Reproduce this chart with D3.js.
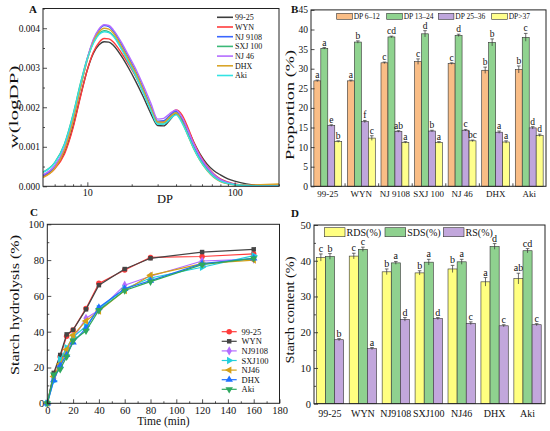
<!DOCTYPE html>
<html>
<head>
<meta charset="utf-8">
<script src="https://cdn.jsdelivr.net/npm/d3@7"></script>
<style>
  body { margin: 0; background: #fff; }
</style>
</head>
<body>
<svg id="fig" width="550" height="431"></svg>
<script>
// ---- data -------------------------------------------------------------

// A: molecular weight distribution, w(logDP) in units of 0.001
var dpGrid  = [5, 6, 7, 8, 9, 10, 11, 12, 13, 14, 15, 17, 19, 21, 24, 27, 30, 33, 36, 40, 44, 48, 53, 58, 65, 72, 80, 90, 100, 120, 150, 200];
var w_9925  = [0.27, 0.47, 0.86, 1.52, 2.30, 2.95, 3.37, 3.58, 3.66, 3.65, 3.57, 3.30, 3.00, 2.70, 2.26, 1.84, 1.54, 1.53, 1.66, 1.83, 1.70, 1.45, 1.10, 0.83, 0.56, 0.40, 0.29, 0.19, 0.13, 0.06, 0.03, 0.03];
var w_wyn   = [0.25, 0.44, 0.82, 1.48, 2.28, 2.95, 3.40, 3.64, 3.74, 3.73, 3.65, 3.38, 3.10, 2.82, 2.38, 1.95, 1.63, 1.64, 1.78, 1.93, 1.80, 1.50, 1.10, 0.80, 0.51, 0.32, 0.19, 0.11, 0.06, 0.03, 0.02, 0.02];
var w_nj9108 = [0.27, 0.50, 0.95, 1.68, 2.52, 3.22, 3.70, 3.96, 4.07, 4.04, 3.93, 3.60, 3.27, 2.96, 2.48, 2.02, 1.65, 1.66, 1.78, 1.90, 1.66, 1.36, 1.00, 0.74, 0.47, 0.29, 0.17, 0.09, 0.05, 0.02, 0.01, 0.01];
var w_sxj100 = [0.36, 0.60, 1.08, 1.82, 2.62, 3.25, 3.65, 3.87, 3.94, 3.91, 3.82, 3.50, 3.17, 2.87, 2.40, 1.95, 1.60, 1.60, 1.72, 1.86, 1.64, 1.32, 0.95, 0.68, 0.42, 0.25, 0.14, 0.07, 0.04, 0.02, 0.01, 0.01];
var w_nj46  = [0.29, 0.52, 0.97, 1.70, 2.54, 3.24, 3.72, 3.98, 4.09, 4.07, 3.96, 3.65, 3.32, 3.02, 2.55, 2.10, 1.70, 1.72, 1.83, 1.93, 1.74, 1.44, 1.06, 0.77, 0.49, 0.30, 0.17, 0.09, 0.05, 0.02, 0.01, 0.01];
var w_dhx   = [0.22, 0.45, 0.92, 1.66, 2.50, 3.20, 3.66, 3.91, 4.00, 3.98, 3.88, 3.55, 3.22, 2.92, 2.44, 1.98, 1.63, 1.62, 1.74, 1.86, 1.62, 1.30, 0.93, 0.66, 0.40, 0.23, 0.12, 0.06, 0.04, 0.03, 0.04, 0.06];
var w_aki   = [0.35, 0.59, 1.06, 1.80, 2.60, 3.22, 3.62, 3.84, 3.91, 3.89, 3.80, 3.48, 3.14, 2.84, 2.36, 1.92, 1.57, 1.57, 1.68, 1.81, 1.60, 1.30, 0.94, 0.67, 0.41, 0.24, 0.13, 0.07, 0.04, 0.02, 0.01, 0.01];
var namesA  = ["99-25", "WYN", "NJ 9108", "SXJ 100", "NJ 46", "DHX", "Aki"];

// B: chain length distribution (%)
var cultivarsB = ["99-25", "WYN", "NJ 9108", "SXJ 100", "NJ 46", "DHX", "Aki"];
var seriesB    = ["DP 6\u201312", "DP 13\u201324", "DP 25\u201336", "DP>37"];
var dp6_12     = [26.9, 26.9, 31.5, 31.8, 31.3, 29.6, 29.8];
var dp13_24    = [35.2, 36.8, 38.1, 38.9, 38.5, 36.7, 38.0];
var dp25_36    = [15.5, 16.5, 14.0, 14.1, 14.3, 13.8, 14.9];
var dp37       = [11.4, 12.3, 11.2, 11.2, 11.6, 11.3, 13.0];
var err6_12    = [0.2, 0.2, 0.2, 0.7, 0.2, 0.8, 0.9];
var err13_24   = [0.2, 0.3, 0.2, 0.8, 0.3, 0.9, 1.0];
var err25_36   = [0.2, 0.3, 0.2, 0.2, 0.2, 0.3, 0.3];
var err37      = [0.2, 0.6, 0.2, 0.2, 0.2, 0.3, 0.3];
var let6_12    = ["a", "a", "c", "c", "c", "b", "b"];
var let13_24   = ["a", "b", "cd", "d", "d", "b", "c"];
var let25_36   = ["e", "f", "ab", "b", "c", "a", "d"];
var let37      = ["b", "c", "a", "a", "bc", "a", "d"];

// C: in vitro hydrolysis (%)
var timeC     = [0, 5, 10, 15, 20, 30, 40, 60, 80, 120, 160];
var h_9925    = [0, 16.0, 26.0, 37.5, 41.0, 53.0, 67.0, 74.5, 81.5, 82.0, 83.5];
var h_wyn     = [0, 17.0, 27.0, 38.5, 41.0, 52.5, 66.0, 75.0, 81.0, 84.5, 86.0];
var h_nj9108  = [0, 14.0, 21.0, 29.0, 36.0, 47.5, 52.0, 66.0, 71.0, 79.5, 80.5];
var h_sxj100  = [0, 12.5, 24.5, 31.0, 37.0, 43.0, 53.0, 64.0, 70.0, 76.0, 82.5];
var h_nj46    = [0, 15.0, 22.0, 30.0, 38.0, 46.0, 51.5, 63.0, 71.5, 78.0, 80.0];
var h_dhx     = [0, 13.0, 21.0, 27.0, 34.0, 42.0, 53.5, 64.0, 68.5, 78.0, 81.0];
var h_aki     = [0, 16.0, 19.0, 26.0, 35.0, 40.5, 52.0, 63.0, 68.0, 77.5, 81.0];
var namesC    = ["99-25", "WYN", "NJ9108", "SXJ100", "NJ46", "DHX", "Aki"];

// D: starch fractions (%)
var cultivarsD = ["99-25", "WYN", "NJ9108", "SXJ100", "NJ46", "DHX", "Aki"];
var seriesD    = ["RDS(%)", "SDS(%)", "RS(%)"];
var rds        = [40.9, 41.3, 36.9, 36.6, 37.7, 34.1, 35.0];
var sds        = [41.2, 43.2, 39.4, 39.6, 39.7, 44.0, 42.8];
var rs         = [17.9, 15.4, 23.6, 23.8, 22.5, 21.8, 22.1];
var errRds     = [1.0, 0.8, 0.8, 0.6, 1.0, 1.2, 1.5];
var errSds     = [0.8, 0.6, 0.4, 0.8, 0.7, 0.8, 0.6];
var errRs      = [0.3, 0.3, 0.5, 0.3, 0.4, 0.3, 0.3];
var letRds     = ["c", "c", "b", "b", "b", "a", "ab"];
var letSds     = ["b", "c", "a", "a", "a", "d", "cd"];
var letRs      = ["b", "a", "d", "d", "c", "c", "c"];

// ---- helpers ----------------------------------------------------------

var FONT = '"Liberation Serif", "Times New Roman", Times, serif';
var INK  = "#222";
var svg  = d3.select("#fig").attr("font-family", FONT);

function frame(x0, y0, x1, y1) {
  svg.append("rect")
    .attr("x", x0).attr("y", y0)
    .attr("width", x1 - x0).attr("height", y1 - y0)
    .attr("fill", "none").attr("stroke", INK).attr("stroke-width", 1);
}

function axisIn(maker, scale, tx, ty, values, size, fmt, fs) {
  var ax = maker(scale).tickValues(values).tickSize(-size).tickSizeOuter(0)
    .tickPadding(3).tickFormat(fmt);
  var g = svg.append("g")
    .attr("transform", "translate(" + tx + "," + ty + ")")
    .call(ax)
    .attr("font-family", FONT).attr("font-size", fs);
  g.select(".domain").remove();
  g.selectAll(".tick line").attr("stroke", INK).attr("stroke-width", 0.8);
  g.selectAll(".tick text").attr("fill", "#111");
  return g;
}

function yTitle(x, y, txt, len, fs) {
  svg.append("text")
    .attr("transform", "translate(" + x + "," + y + ") rotate(-90)")
    .attr("text-anchor", "middle")
    .attr("font-size", fs)
    .attr("textLength", len).attr("lengthAdjust", "spacingAndGlyphs")
    .attr("fill", "#111")
    .text(txt);
}

function label(x, y, txt, fs, anchor, weight) {
  return svg.append("text")
    .attr("x", x).attr("y", y)
    .attr("font-size", fs)
    .attr("text-anchor", anchor || "start")
    .attr("font-weight", weight || "normal")
    .attr("fill", "#111")
    .text(txt);
}

function panelLetter(x, y, t) {
  label(x, y, t, 11, "start", "bold");
}

// ---- panel A ----------------------------------------------------------

var A = { l: 43, r: 279, t: 8.5, b: 186.3 };
var xA = d3.scaleLog().domain([5, 200]).range([A.l, A.r]);
var yA = d3.scaleLinear().domain([0, 4.5]).range([A.b, A.t]);
var seriesA = [w_9925, w_wyn, w_nj9108, w_sxj100, w_nj46, w_dhx, w_aki];
var colorsA = ["#3d3d3d", "#ff3b3b", "#3a66ff", "#3cb878", "#b46cff", "#d9a52a", "#33e3e3"];

svg.append("clipPath").attr("id", "clipA").append("rect")
  .attr("x", A.l).attr("y", A.t).attr("width", A.r - A.l).attr("height", A.b - A.t);

var lineA = d3.line()
  .x(function(d) { return xA(d[0]); })
  .y(function(d) { return yA(d[1]); })
  .curve(d3.curveMonotoneX);

seriesA.forEach(function(s, i) {
  svg.append("path")
    .datum(dpGrid.map(function(dp, k) { return [dp, s[k]]; }))
    .attr("clip-path", "url(#clipA)")
    .attr("d", lineA)
    .attr("fill", "none")
    .attr("stroke", colorsA[i])
    .attr("stroke-width", 1.4);
});

axisIn(d3.axisLeft, yA, A.l, 0, [0, 1, 2, 3, 4], 4,
  function(d) { return (d / 1000).toFixed(3); }, 9.5);
axisIn(d3.axisLeft, yA, A.l, 0, [0.5, 1.5, 2.5, 3.5, 4.5], 2, function() { return ""; }, 9.5);
axisIn(d3.axisBottom, xA, 0, A.b, [10, 100], 4, d3.format("d"), 10);
axisIn(d3.axisBottom, xA, 0, A.b, [6, 7, 8, 9, 20, 30, 40, 50, 60, 70, 80, 90, 200], 2,
  function() { return ""; }, 10);
frame(A.l, A.t, A.r, A.b);

label((A.l + A.r) / 2 + 4, 203, "DP", 12.5, "middle");
yTitle(18, 107, "w(logDP)", 83, 11.5);

namesA.forEach(function(n, i) {
  var yy = 17.3 + i * 9.7;
  svg.append("line")
    .attr("x1", 217).attr("x2", 233).attr("y1", yy).attr("y2", yy)
    .attr("stroke", colorsA[i]).attr("stroke-width", 1.6);
  label(235, yy + 2.8, n, 8);
});
panelLetter(29, 12.5, "A");

// ---- panel B ----------------------------------------------------------

var B = { l: 311, r: 546, t: 9.9, b: 186.3 };
var xB  = d3.scaleBand().domain(cultivarsB).range([B.l, B.r]);
var subB = d3.scaleBand().domain(seriesB).range([0, xB.bandwidth() * 0.83]);
var yB  = d3.scaleLinear().domain([0, 45]).range([B.b, B.t]);
var valsB = [dp6_12, dp13_24, dp25_36, dp37];
var errsB = [err6_12, err13_24, err25_36, err37];
var letsB = [let6_12, let13_24, let25_36, let37];
var fillsB = ["#f9bd86", "#8fd38f", "#bfa6dc", "#ffff8c"];

function drawBars(xs, sub, ys, cats, series, vals, errs, lets, fills, fs) {
  var off = (xs.bandwidth() - sub.range()[1]) / 2;
  series.forEach(function(s, j) {
    var bars = cats.map(function(c, i) {
      return { c: c, v: vals[j][i], e: errs[j][i], l: lets[j][i] };
    });
    var g = svg.append("g");
    g.selectAll("rect").data(bars).enter().append("rect")
      .attr("x", function(d) { return xs(d.c) + off + sub(s); })
      .attr("y", function(d) { return ys(d.v); })
      .attr("width", sub.bandwidth())
      .attr("height", function(d) { return ys(0) - ys(d.v); })
      .attr("fill", fills[j]).attr("stroke", "#333").attr("stroke-width", 0.6);
    var cx = function(d) { return xs(d.c) + off + sub(s) + sub.bandwidth() / 2; };
    g.selectAll("line.e").data(bars).enter().append("line")
      .attr("x1", cx).attr("x2", cx)
      .attr("y1", function(d) { return ys(d.v - d.e); })
      .attr("y2", function(d) { return ys(d.v + d.e); })
      .attr("stroke", "#333").attr("stroke-width", 0.7);
    g.selectAll("line.c").data(bars).enter().append("line")
      .attr("x1", function(d) { return cx(d) - 1.8; })
      .attr("x2", function(d) { return cx(d) + 1.8; })
      .attr("y1", function(d) { return ys(d.v + d.e); })
      .attr("y2", function(d) { return ys(d.v + d.e); })
      .attr("stroke", "#333").attr("stroke-width", 0.7);
    g.selectAll("text").data(bars).enter().append("text")
      .attr("x", cx)
      .attr("y", function(d) { return ys(d.v + d.e) - 2; })
      .attr("text-anchor", "middle")
      .attr("font-size", fs).attr("fill", "#111")
      .text(function(d) { return d.l; });
  });
}

drawBars(xB, subB, yB, cultivarsB, seriesB, valsB, errsB, letsB, fillsB, 9.5);

axisIn(d3.axisLeft, yB, B.l, 0, d3.range(0, 46, 5), 3.5, d3.format("d"), 9.5);
var gxB = axisIn(d3.axisBottom, xB, 0, B.b, cultivarsB, 0, function(d) { return d; }, 9);
gxB.selectAll(".tick text").attr("dy", "0.9em");
axisIn(d3.axisBottom, d3.scaleLinear().domain([0, 7]).range([B.l, B.r]), 0, B.b,
  [1, 2, 3, 4, 5, 6], 3, function() { return ""; }, 9);
frame(B.l, B.t, B.r, B.b);

yTitle(294, 105, "Proportion (%)", 110, 11.5);

var legB = [336.7, 386.7, 438.3, 491.7];
seriesB.forEach(function(s, j) {
  svg.append("rect")
    .attr("x", legB[j]).attr("y", 13.3).attr("width", 15.6).attr("height", 6)
    .attr("fill", fillsB[j]).attr("stroke", "#333").attr("stroke-width", 0.6);
  label(legB[j] + 17, 19, s, 7.5);
});
panelLetter(291, 12.7, "B");

// ---- panel C ----------------------------------------------------------

var C = { l: 47.3, r: 279.5, t: 224.3, b: 403.3 };
var xC = d3.scaleLinear().domain([0, 180]).range([C.l, C.r]);
var yC = d3.scaleLinear().domain([0, 100]).range([C.b, C.t]);
var seriesC = [h_9925, h_wyn, h_nj9108, h_sxj100, h_nj46, h_dhx, h_aki];
var colorsC = ["#ff3b3b", "#444444", "#b46cff", "#22cfdc", "#d4a017", "#1f6fff", "#2ea85e"];
var symC = [
  { t: d3.symbolCircle,   r: 0 },
  { t: d3.symbolSquare,   r: 0 },
  { t: d3.symbolDiamond,  r: 0 },
  { t: d3.symbolTriangle, r: 90 },
  { t: d3.symbolTriangle, r: -90 },
  { t: d3.symbolTriangle, r: 0 },
  { t: d3.symbolTriangle, r: 180 }
];

var lineC = d3.line()
  .x(function(d) { return xC(d[0]); })
  .y(function(d) { return yC(d[1]); });

seriesC.forEach(function(s, i) {
  var pts = timeC.map(function(t, k) { return [t, s[k]]; });
  svg.append("path").datum(pts)
    .attr("d", lineC).attr("fill", "none")
    .attr("stroke", colorsC[i]).attr("stroke-width", 1.2);
  svg.append("g").selectAll("path").data(pts).enter().append("path")
    .attr("d", d3.symbol().type(symC[i].t).size(symC[i].t === d3.symbolSquare ? 20 : 24))
    .attr("transform", function(d) {
      return "translate(" + xC(d[0]) + "," + yC(d[1]) + ") rotate(" + symC[i].r + ")";
    })
    .attr("fill", colorsC[i]);
});

axisIn(d3.axisLeft, yC, C.l, 0, d3.range(0, 101, 20), 4, d3.format("d"), 10.5);
axisIn(d3.axisLeft, yC, C.l, 0, d3.range(10, 100, 20), 2, function() { return ""; }, 10.5);
axisIn(d3.axisBottom, xC, 0, C.b, d3.range(0, 181, 20), 4, d3.format("d"), 10.5);
axisIn(d3.axisBottom, xC, 0, C.b, d3.range(10, 180, 20), 2, function() { return ""; }, 10.5);
frame(C.l, C.t, C.r, C.b);

label((C.l + C.r) / 2, 425, "Time (min)", 11.5, "middle");
yTitle(19, 305, "Starch hydrolysis (%)", 140, 11.5);

namesC.forEach(function(n, i) {
  var yy = 331.7 + i * 9.6;
  svg.append("line")
    .attr("x1", 221.7).attr("x2", 236.7).attr("y1", yy).attr("y2", yy)
    .attr("stroke", colorsC[i]).attr("stroke-width", 1.2);
  svg.append("path")
    .attr("d", d3.symbol().type(symC[i].t).size(symC[i].t === d3.symbolSquare ? 20 : 24))
    .attr("transform", "translate(229.2," + yy + ") rotate(" + symC[i].r + ")")
    .attr("fill", colorsC[i]);
  label(241.5, yy + 3, n, 8.5);
});
panelLetter(30, 216, "C");

// ---- panel D ----------------------------------------------------------

var D = { l: 314, r: 545, t: 225, b: 403.7 };
var xD  = d3.scaleBand().domain(cultivarsD).range([313.5, 544]);
var subD = d3.scaleBand().domain(seriesD).range([0, xD.bandwidth() * 0.83]);
var yD  = d3.scaleLinear().domain([0, 50]).range([D.b, D.t]);
var fillsD = ["#ffff80", "#8fd18f", "#c2a7dc"];

drawBars(xD, subD, yD, cultivarsD, seriesD, [rds, sds, rs], [errRds, errSds, errRs],
  [letRds, letSds, letRs], fillsD, 10);

axisIn(d3.axisLeft, yD, D.l, 0, d3.range(0, 51, 10), 4, d3.format("d"), 10.5);
axisIn(d3.axisLeft, yD, D.l, 0, d3.range(5, 50, 10), 2, function() { return ""; }, 10.5);
var gxD = axisIn(d3.axisBottom, xD, 0, D.b, cultivarsD, 0, function(d) { return d; }, 10);
gxD.selectAll(".tick text").attr("dy", "1.0em");
frame(D.l, D.t, D.r, D.b);

yTitle(294, 310, "Starch content (%)", 107, 11.5);

var legD = [324.3, 385, 443.3];
seriesD.forEach(function(s, j) {
  svg.append("rect")
    .attr("x", legD[j]).attr("y", 227.7).attr("width", 20.7).attr("height", 9)
    .attr("fill", fillsD[j]).attr("stroke", "#333").attr("stroke-width", 0.6);
  label(legD[j] + 22.3, 235.5, s, 10);
});
panelLetter(291, 217, "D");
</script>
</body>
</html>
